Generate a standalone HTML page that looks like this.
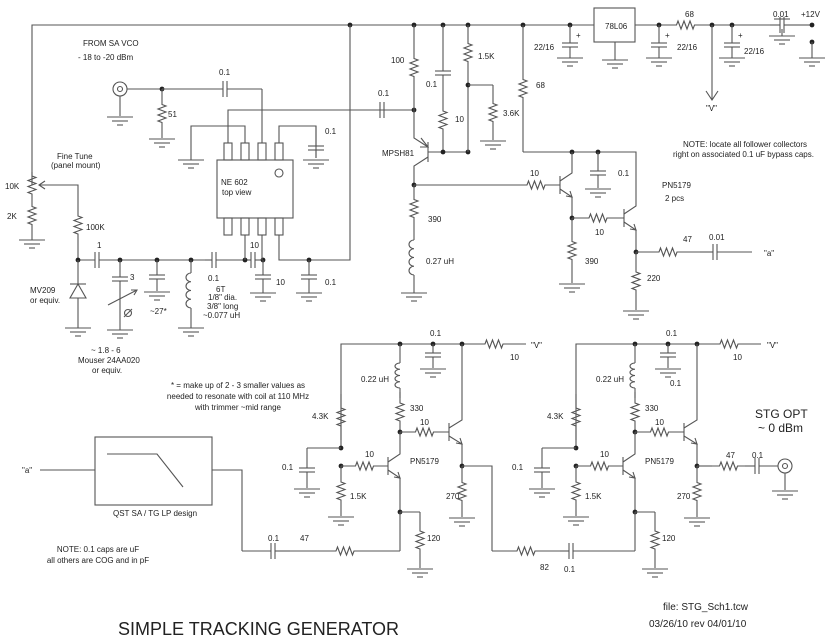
<!DOCTYPE html>
<html><head><meta charset="utf-8"><style>
html,body{margin:0;padding:0;background:#fff;}
svg{display:block;}
text{font-family:"Liberation Sans",sans-serif;font-size:8px;fill:#222;}
</style></head><body>
<svg id="s" width="827" height="640" viewBox="0 0 827 640" xmlns="http://www.w3.org/2000/svg">
<g id="g" fill="none" stroke="#555" stroke-width="1.1"></g>
<g id="t">
<text x="83" y="46">FROM SA VCO</text>
<text x="78" y="60">- 18 to -20  dBm</text>
<text x="219" y="75">0.1</text>
<text x="168" y="117">51</text>
<text x="378" y="96">0.1</text>
<text x="325" y="134">0.1</text>
<text x="57" y="159">Fine Tune</text>
<text x="51" y="168">(panel mount)</text>
<text x="5" y="189">10K</text>
<text x="7" y="219">2K</text>
<text x="86" y="230">100K</text>
<text x="97" y="248">1</text>
<text x="30" y="293">MV209</text>
<text x="30" y="303">or equiv.</text>
<text x="130" y="280">3</text>
<text x="150" y="314">~27*</text>
<text x="208" y="281">0.1</text>
<text x="216" y="292">6T</text>
<text x="208" y="300">1/8" dia.</text>
<text x="207" y="309">3/8" long</text>
<text x="203" y="318">~0.077 uH</text>
<text x="250" y="248">10</text>
<text x="276" y="285">10</text>
<text x="325" y="285">0.1</text>
<text x="221" y="185">NE 602</text>
<text x="222" y="195">top view</text>
<text x="91" y="353">~ 1.8 - 6</text>
<text x="78" y="363">Mouser 24AA020</text>
<text x="92" y="373">or equiv.</text>
<text x="391" y="63">100</text>
<text x="382" y="156">MPSH81</text>
<text x="426" y="87">0.1</text>
<text x="455" y="122">10</text>
<text x="478" y="59">1.5K</text>
<text x="503" y="116">3.6K</text>
<text x="536" y="88">68</text>
<text x="428" y="222">390</text>
<text x="426" y="264">0.27 uH</text>
<text x="530" y="176">10</text>
<text x="618" y="176">0.1</text>
<text x="662" y="188">PN5179</text>
<text x="665" y="201">2 pcs</text>
<text x="595" y="235">10</text>
<text x="585" y="264">390</text>
<text x="647" y="281">220</text>
<text x="683" y="242">47</text>
<text x="709" y="240">0.01</text>
<text x="764" y="256">"a"</text>
<text x="683" y="147">NOTE: locate all follower collectors</text>
<text x="673" y="157">right on associated 0.1 uF bypass caps.</text>
<text x="534" y="50">22/16</text>
<text x="677" y="50">22/16</text>
<text x="744" y="54">22/16</text>
<text x="605" y="29">78L06</text>
<text x="685" y="17">68</text>
<text x="773" y="17">0.01</text>
<text x="801" y="17">+12V</text>
<text x="706" y="111">"V"</text>
<text x="238" y="388" text-anchor="middle">* = make up of 2 - 3 smaller values as</text>
<text x="238" y="399" text-anchor="middle">needed to resonate with coil at 110 MHz</text>
<text x="238" y="410" text-anchor="middle">with trimmer ~mid range</text>
<text x="22" y="473">"a"</text>
<text x="155" y="516" text-anchor="middle">QST SA / TG LP design</text>
<text x="98" y="552" text-anchor="middle">NOTE:  0.1 caps are uF</text>
<text x="98" y="563" text-anchor="middle">all others are COG and in pF</text>
<text x="268" y="541">0.1</text>
<text x="300" y="541">47</text>
<text x="430" y="336">0.1</text>
<text x="510" y="360">10</text>
<text x="531" y="348">"V"</text>
<text x="361" y="382">0.22 uH</text>
<text x="410" y="411">330</text>
<text x="420" y="425">10</text>
<text x="312" y="419">4.3K</text>
<text x="282" y="470">0.1</text>
<text x="365" y="457">10</text>
<text x="410" y="464">PN5179</text>
<text x="350" y="499">1.5K</text>
<text x="446" y="499">270</text>
<text x="427" y="541">120</text>
<text x="540" y="570">82</text>
<text x="564" y="572">0.1</text>
<text x="666" y="336">0.1</text>
<text x="733" y="360">10</text>
<text x="767" y="348">"V"</text>
<text x="596" y="382">0.22 uH</text>
<text x="670" y="386">0.1</text>
<text x="645" y="411">330</text>
<text x="655" y="425">10</text>
<text x="547" y="419">4.3K</text>
<text x="512" y="470">0.1</text>
<text x="600" y="457">10</text>
<text x="645" y="464">PN5179</text>
<text x="585" y="499">1.5K</text>
<text x="677" y="499">270</text>
<text x="662" y="541">120</text>
<text x="726" y="458">47</text>
<text x="752" y="458">0.1</text>
<text x="755" y="418" style="font-size:12px">STG OPT</text>
<text x="758" y="432" style="font-size:12px">~ 0 dBm</text>
<text x="663" y="610" style="font-size:10px">file:  STG_Sch1.tcw</text>
<text x="649" y="627" style="font-size:10px">03/26/10 rev 04/01/10</text>
<text x="118" y="635" style="font-size:18px">SIMPLE TRACKING GENERATOR</text>
</g>
</svg>
<script>
var g=document.getElementById('g'),NS='http://www.w3.org/2000/svg';
function el(n,a){var e=document.createElementNS(NS,n);for(var k in a)e.setAttribute(k,a[k]);g.appendChild(e);return e;}
function L(p){el('polyline',{points:p.map(function(q){return q.join(',')}).join(' ')});}
function N(x,y){el('circle',{cx:x,cy:y,r:2.4,fill:'#222',stroke:'none'});}
function R(x,y1,y2){var m=(y1+y2)/2,p=[[x,y1],[x,m-9]];for(var i=0;i<6;i++)p.push([x+(i%2?-4:4),m-9+1.5+i*3]);p.push([x,m+9],[x,y2]);L(p);}
function RH(x1,x2,y){var m=(x1+x2)/2,p=[[x1,y],[m-9,y]];for(var i=0;i<6;i++)p.push([m-9+1.5+i*3,y+(i%2?4:-4)]);p.push([m+9,y],[x2,y]);L(p);}
function C(x,y1,y2,c){var m=c||(y1+y2)/2;L([[x,y1],[x,m-2]]);L([[x-8,m-2],[x+8,m-2]]);L([[x-8,m+2],[x+8,m+2]]);L([[x,m+2],[x,y2]]);}
function CH(x1,x2,y,c){var m=c||(x1+x2)/2;L([[x1,y],[m-2,y]]);L([[m-2,y-8],[m-2,y+8]]);L([[m+2,y-8],[m+2,y+8]]);L([[m+2,y],[x2,y]]);}
function G(x,y){L([[x-13,y],[x+13,y]]);L([[x-8,y+4],[x+8,y+4]]);L([[x-3,y+8],[x+3,y+8]]);}
function I(x,y1,y2){var d='M'+x+','+y1;var n=4,h=(y2-y1)/n;for(var i=0;i<n;i++)d+=' a5,'+(h/2)+' 0 0 0 0,'+h;el('path',{d:d});}
function IV(x,y1,y2,ly1,ly2){L([[x,y1],[x,ly1]]);I(x,ly1,ly2);L([[x,ly2],[x,y2]]);}
function Q(bx,cx,cy,ey,bl,by){
 L([[bx,by-9],[bx,by+9]]);L([[bl,by],[bx,by]]);L([[bx,by-4],[cx,by-12],[cx,cy]]);L([[bx,by+4],[cx,by+12],[cx,ey]]);
 L([[cx-6,by+11],[cx,by+12],[cx-2,by+6]]);}
L([[32,185],[32,25],[659,25]]);RH(659,712,25);L([[712,25],[770,25]]);CH(770,798,25,782);L([[798,25],[812,25]]);
el('rect',{x:594,y:8,width:41,height:34,fill:'#fff'});L([[615,42],[615,60]]);G(615,60);
[350,414,443,468,523,570,659,712,732,812].forEach(function(x){N(x,25)});N(812,42);L([[812,42],[812,58]]);G(812,58);
L([[782,29],[782,36]]);G(782,36);
L([[774,19],[790,19]]);
[570,659,732].forEach(function(x){C(x,25,58,45);G(x,58);});
el('text',{x:576,y:38,fill:'#222',stroke:'none'}).textContent='+';
el('text',{x:665,y:38,fill:'#222',stroke:'none'}).textContent='+';
el('text',{x:738,y:38,fill:'#222',stroke:'none'}).textContent='+';
L([[712,25],[712,100]]);L([[706,91],[712,100],[718,91]]);
R(32,172,198);R(32,203,228);L([[32,198],[32,203]]);L([[32,228],[32,240]]);G(32,240);
L([[78,205],[78,185],[40,185]]);L([[45,181],[39,185],[45,189]]);
R(78,205,245);L([[78,245],[78,260]]);
CH(78,120,260,97);L([[120,260],[205,260]]);CH(205,245,260,214);CH(245,263,260,253);
[78,120,157,191,245,263].forEach(function(x){N(x,260)});
L([[78,260],[78,284]]);L([[70,284],[86,284]]);L([[78,284],[70,298],[86,298],[78,284]]);L([[78,298],[78,328]]);G(78,328);
C(120,260,330,279);G(120,330);L([[108,305],[137,290]]);L([[131,290],[137,290],[134,295]]);
el('circle',{cx:128,cy:313,r:3.5});L([[124,317],[132,309]]);
C(157,260,291,277);G(157,292);
IV(191,260,328,273,308);G(191,328);
C(263,260,293,277);G(263,293);
L([[279,235],[279,260],[350,260],[350,25]]);N(309,260);C(309,260,293,277);G(309,293);
el('rect',{x:217,y:160,width:76,height:58});el('circle',{cx:279,cy:173,r:4});
[228,245,262,279].forEach(function(x){el('rect',{x:x-4,y:143,width:8,height:17});el('rect',{x:x-4,y:218,width:8,height:17});});
L([[245,235],[245,260]]);L([[262,235],[262,260]]);
L([[228,143],[228,110],[414,110]]);CH(228,414,110,382);N(414,110);
L([[245,143],[245,126],[191,126],[191,160]]);G(191,160);
L([[279,143],[279,126],[316,126],[316,158]]);C(316,126,158,148);G(316,160);
el('circle',{cx:120,cy:89,r:7});el('circle',{cx:120,cy:89,r:2.5});
L([[127,89],[162,89]]);N(162,89);CH(162,262,89,225);L([[262,89],[262,143]]);
R(162,89,138);G(162,139);L([[120,96],[120,116]]);G(120,117);
R(414,25,110);L([[414,110],[414,138],[428,147]]);L([[428,142],[428,162]]);L([[428,152],[468,152]]);
L([[421,138],[428,147],[420,147]]);L([[428,157],[414,166],[414,185]]);N(414,185);
R(414,185,232);IV(414,232,293,240,275);G(414,293);
C(443,25,100,73);R(443,100,140);L([[443,140],[443,152]]);N(443,152);N(468,152);
R(468,25,80);L([[468,80],[468,152]]);N(468,85);L([[468,85],[493,85]]);R(493,85,140);G(493,141);
R(523,25,152);L([[523,152],[636,152],[636,205]]);N(572,152);N(598,152);
C(598,152,188,173);G(598,189);
L([[414,185],[512,185]]);RH(512,560,185);Q(560,572,152,218,560,185);N(572,218);
R(572,218,283);G(572,284);
RH(572,624,218);Q(624,636,205,252,624,218);N(636,252);
R(636,252,310);G(636,311);
RH(636,700,252);CH(700,752,252,715);
el('rect',{x:95,y:437,width:117,height:68});L([[107,454],[157,454],[183,487]]);
L([[40,470],[95,470]]);L([[212,470],[242,470],[242,551]]);CH(242,290,551,273);RH(290,400,551);
function S(o){
 var a=341+o,b=400+o,c=433+o,d=462+o,q2=449+o,q1=388+o;
 L([[a,448],[a,344],[d,344]]);RH(d,d+64,344);
 [b,c,d].forEach(function(x){N(x,344)});
 C(c,344,368,355);G(c,369);
 IV(b,344,398,363,388);R(b,392,432);N(b,432);
 RH(b,q2,432);Q(q2,d,344,466,q2,432);N(d,466);R(d,466,517);G(d,518);
 L([[b,432],[b,452]]);Q(q1,b,452,512,q1,466);N(b,512);
 L([[b,512],[b,551]]);L([[b,512],[b+20,512]]);R(b+20,512,568);G(b+20,569);
 R(a,394,440);N(a,448);N(a,466);R(a,466,516);G(a,517);
 L([[a,448],[a-34,448]]);C(a-34,448,488,470);G(a-34,489);
 RH(a,q1,466);
}
S(0);S(235);
L([[462,466],[492,466],[492,551]]);RH(492,560,551);CH(560,635,551,571);
L([[697,466],[712,466]]);RH(712,745,466);CH(745,778,466,757);
el('circle',{cx:785,cy:466,r:7});el('circle',{cx:785,cy:466,r:2.5});L([[785,473],[785,490]]);G(785,491);
</script>
</body></html>
